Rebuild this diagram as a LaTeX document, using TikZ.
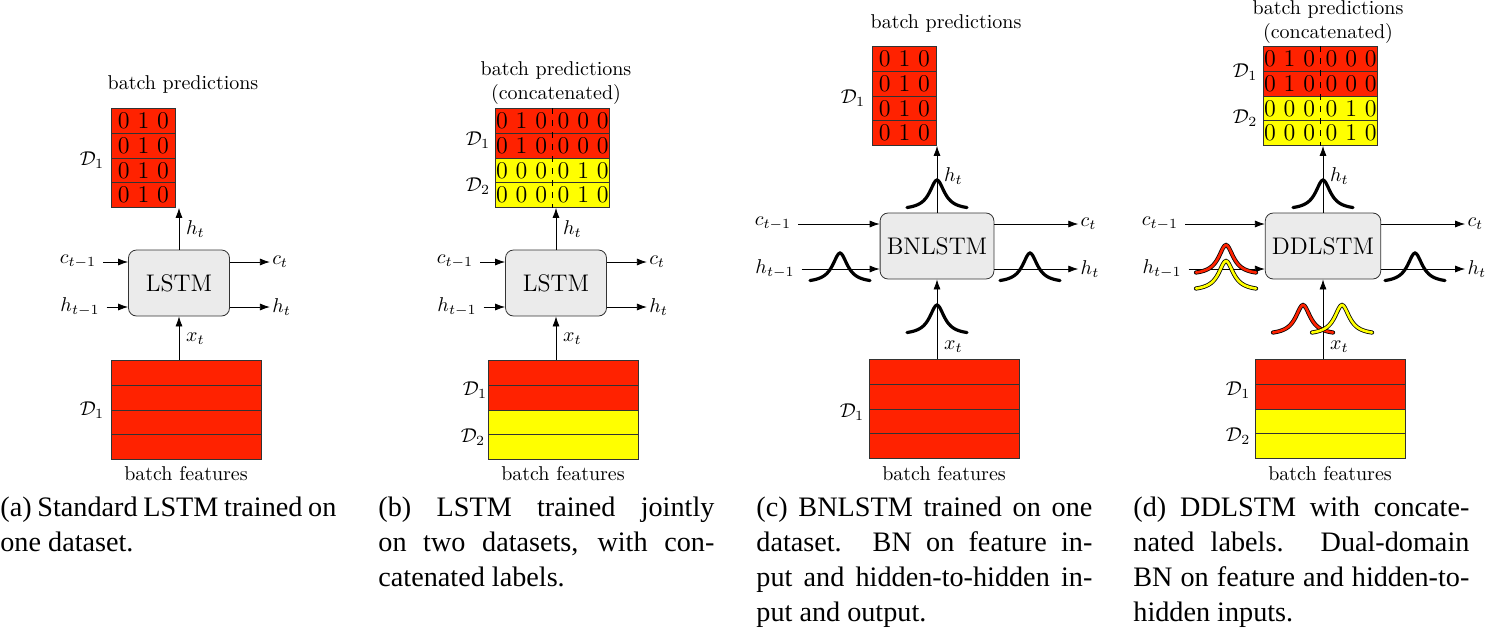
\documentclass[tikz,border=0pt]{standalone}
\usepackage{fontspec}
\newfontfamily\captfont{Liberation Serif}
\usetikzlibrary{arrows.meta,positioning}
\definecolor{dred}{RGB}{255,34,0}
\definecolor{dyel}{RGB}{255,255,0}
\tikzset{
    cell/.style={
           draw=black!80, thin,
           minimum height=12.4pt,
           inner sep=0pt,
           anchor=north west,
           font=\large,
           },
    lstm/.style={
           rectangle,
           rounded corners=4pt,
           draw=black!80, fill=black!8,
           minimum width=50.5pt,
           minimum height=33pt,
           font=\large,
           },
    subcap/.style={anchor=north west, inner sep=0pt, text width=168pt,
           align=justify, font=\captfont\fontsize{14.1}{17.5}\selectfont},
    bell/.pic={\draw[line width=1.6pt, line cap=round]
           plot[domain=-30:30, samples=41] (\x, {-30/(1+(\x/9)^2)+2});},
    cbell/.pic={\draw[line width=0.4pt, line cap=round, double=#1, double distance=1.3pt]
           plot[domain=-30:30, samples=41] (\x, {-30/(1+(\x/9)^2)+2});},
}

\begin{document}
\begin{tikzpicture}[x=0.5pt, y=-0.5pt, >={Latex[length=5pt,width=3.5pt]}]
  \useasboundingbox (0,0) rectangle (1486,643);

  % ---------- (a) standard LSTM ----------
  \node (ttla) at (183,84) {batch predictions};
  \foreach \i in {0,...,3}
    \node[cell, fill=dred, minimum width=32pt] (pa\i) at (111,{108+24.75*\i}) {0 1 0};
  \node (dpa) at (92,160) {$\mathcal{D}_1$};
  \node[lstm] (boxa) at (179,283) {LSTM};
  \node (cina) at (78,262) {$c_{t-1}$};
  \node (hina) at (80,307) {$h_{t-1}$};
  \node[right=20pt of boxa.east |- cina, inner sep=1pt] (couta) {$c_t$};
  \node[right=20pt of boxa.east |- hina, inner sep=1pt] (houta) {$h_t$};
  \draw[->] (cina) -- (cina -| boxa.west);
  \draw[->] (hina) -- (hina -| boxa.west);
  \draw[->] (boxa.east |- couta) -- (couta);
  \draw[->] (boxa.east |- houta) -- (houta);
  \foreach \i in {0,...,3}
    \node[cell, fill=dred, minimum width=75pt] (fa\i) at (111,{360+24.75*\i}) {};
  \node (dfa) at (92,410) {$\mathcal{D}_1$};
  \node (bfa) at (186,474) {batch features};
  \draw[->] (boxa.north) -- node[right]{$h_t$} (boxa.north |- pa3.south);
  \draw[->] (boxa.south |- fa0.north) -- node[right]{$x_t$} (boxa.south);
  \node[subcap] (capa) at (0,497) {(a) Standard LSTM trained on one dataset.};

  % ---------- (b) joint LSTM ----------
  \node[align=center] (ttlb) at (556,83) {batch predictions\\(concatenated)};
  \foreach \i in {0,1}
    \node[cell, fill=dred, minimum width=57pt] (pb\i) at (495,{108+24.75*\i}) {0 1 0\;\,0 0 0};
  \foreach \i in {2,3}
    \node[cell, fill=dyel, minimum width=57pt] (pb\i) at (495,{108+24.75*\i}) {0 0 0\;\,0 1 0};
  \draw[dashed, thin] (pb0.north) -- (pb3.south);
  \node (dpb1) at (478,140) {$\mathcal{D}_1$};
  \node (dpb2) at (478,186) {$\mathcal{D}_2$};
  \node[lstm] (boxb) at (556,283) {LSTM};
  \node (cinb) at (455,262) {$c_{t-1}$};
  \node (hinb) at (457,307) {$h_{t-1}$};
  \node[right=20pt of boxb.east |- cinb, inner sep=1pt] (coutb) {$c_t$};
  \node[right=20pt of boxb.east |- hinb, inner sep=1pt] (houtb) {$h_t$};
  \draw[->] (cinb) -- (cinb -| boxb.west);
  \draw[->] (hinb) -- (hinb -| boxb.west);
  \draw[->] (boxb.east |- coutb) -- (coutb);
  \draw[->] (boxb.east |- houtb) -- (houtb);
  \foreach \i/\c in {0/dred,1/dred,2/dyel,3/dyel}
    \node[cell, fill=\c, minimum width=75pt] (fb\i) at (488,{360+24.75*\i}) {};
  \node (dfb1) at (475,390) {$\mathcal{D}_1$};
  \node (dfb2) at (473,437) {$\mathcal{D}_2$};
  \node (bfb) at (563,474) {batch features};
  \draw[->] (boxb.north) -- node[right]{$h_t$} (boxb.north |- pb3.south);
  \draw[->] (boxb.south |- fb0.north) -- node[right]{$x_t$} (boxb.south);
  \node[subcap] (capb) at (378,497) {(b) LSTM trained jointly on two datasets, with con\-catenated labels.};

  % ---------- (c) BNLSTM ----------
  \node (ttlc) at (946,23) {batch predictions};
  \foreach \i in {0,...,3}
    \node[cell, fill=dred, minimum width=32pt] (pc\i) at (872,{46+24.75*\i}) {0 1 0};
  \node (dpc) at (853,98) {$\mathcal{D}_1$};
  \node[lstm] (boxc) at (937,246) {BNLSTM};
  \node (cinc) at (773,224) {$c_{t-1}$};
  \node (hinc) at (775,269) {$h_{t-1}$};
  \node[right=42pt of boxc.east |- cinc, inner sep=1pt] (coutc) {$c_t$};
  \node[right=42pt of boxc.east |- hinc, inner sep=1pt] (houtc) {$h_t$};
  \draw[->] (cinc) -- (cinc -| boxc.west);
  \draw[->] (hinc) -- (hinc -| boxc.west);
  \draw[->] (boxc.east |- coutc) -- (coutc);
  \draw[->] (boxc.east |- houtc) -- (houtc);
  \foreach \i in {0,...,3}
    \node[cell, fill=dred, minimum width=75pt] (fc\i) at (869,{359+24.75*\i}) {};
  \node (dfc) at (852,412) {$\mathcal{D}_1$};
  \node (bfc) at (944,474) {batch features};
  \draw[->] (boxc.north) -- (boxc.north |- pc3.south) node[pos=.55, right]{$h_t$};
  \draw[->] (boxc.south |- fc0.north) -- (boxc.south) node[pos=.15, right]{$x_t$};
  \pic at (937,208) {bell};
  \pic at (937,333) {bell};
  \pic at (840,281) {bell};
  \pic at (1030,281) {bell};
  \node[subcap] (capc) at (756,497) {(c) BNLSTM trained on one dataset. BN on feature input and hidden-to-hidden input and output.};

  % ---------- (d) DDLSTM ----------
  \node[align=center, inner sep=1pt] (ttld) at (1328,22) {batch predictions\\(concatenated)};
  \foreach \i in {0,1}
    \node[cell, fill=dred, minimum width=57pt] (pd\i) at (1263,{46+24.75*\i}) {0 1 0\;\,0 0 0};
  \foreach \i in {2,3}
    \node[cell, fill=dyel, minimum width=57pt] (pd\i) at (1263,{46+24.75*\i}) {0 0 0\;\,0 1 0};
  \draw[dashed, thin] (pd0.north) -- (pd3.south);
  \node (dpd1) at (1245,72) {$\mathcal{D}_1$};
  \node (dpd2) at (1245,118) {$\mathcal{D}_2$};
  \node[lstm] (boxd) at (1323,246) {DDLSTM};
  \node (cind) at (1160,224) {$c_{t-1}$};
  \node (hind) at (1162,269) {$h_{t-1}$};
  \node[right=42pt of boxd.east |- cind, inner sep=1pt] (coutd) {$c_t$};
  \node[right=42pt of boxd.east |- hind, inner sep=1pt] (houtd) {$h_t$};
  \draw[->] (cind) -- (cind -| boxd.west);
  \draw[->] (hind) -- (hind -| boxd.west);
  \draw[->] (boxd.east |- coutd) -- (coutd);
  \draw[->] (boxd.east |- houtd) -- (houtd);
  \foreach \i/\c in {0/dred,1/dred,2/dyel,3/dyel}
    \node[cell, fill=\c, minimum width=75pt] (fd\i) at (1255,{359+24.75*\i}) {};
  \node (dfd1) at (1238,390) {$\mathcal{D}_1$};
  \node (dfd2) at (1238,436) {$\mathcal{D}_2$};
  \node (bfd) at (1330,474) {batch features};
  \draw[->] (boxd.north) -- (boxd.north |- pd3.south) node[pos=.55, right]{$h_t$};
  \draw[->] (boxd.south |- fd0.north) -- (boxd.south) node[pos=.15, right]{$x_t$};
  \pic at (1323,208) {bell};
  \pic at (1415,281) {bell};
  \pic at (1226,273) {cbell=dred};
  \pic at (1226,289) {cbell=dyel};
  \pic at (1303,333) {cbell=dred};
  \pic at (1342,333) {cbell=dyel};
  \node[subcap] (capd) at (1133,497) {(d) DDLSTM with concate\-nated labels. Dual-domain BN on feature and hidden-to-hidden inputs.};
\end{tikzpicture}
\end{document}
